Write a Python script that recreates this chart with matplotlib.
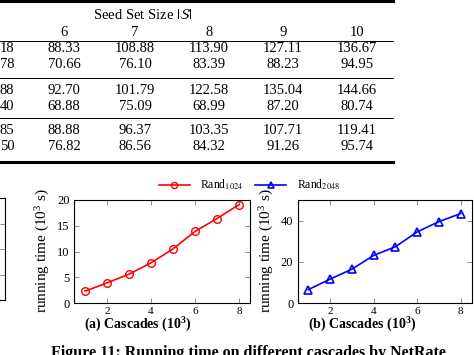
import matplotlib
matplotlib.use("Agg")
import matplotlib.pyplot as plt
from matplotlib.lines import Line2D

plt.rcParams['font.family'] = ['Liberation Serif', 'DejaVu Serif']
plt.rcParams['mathtext.fontset'] = 'stix'

W, H = 474, 355   # figure size in pixels

# table data (only the visible part of the page)
seed_sizes = [6, 7, 8, 9, 10]
cut_column = ["18", "78", "88", "40", "85", "50"]
table_rows = [
    [88.33, 108.88, 113.90, 127.11, 136.67],
    [70.66, 76.10, 83.39, 88.23, 94.95],
    [92.70, 101.79, 122.58, 135.04, 144.66],
    [68.88, 75.09, 68.99, 87.20, 80.74],
    [88.88, 96.37, 103.35, 107.71, 119.41],
    [76.82, 86.56, 84.32, 91.26, 95.74],
]

# plot data
cascades = [1, 2, 3, 4, 5, 6, 7, 8]
rand1024 = [2.3, 3.9, 5.6, 7.8, 10.5, 13.9, 16.4, 19.1]
rand2048 = [6.5, 11.6, 16.4, 23.1, 27.3, 34.5, 39.5, 43.4]


def fx(x):
    return x / W


def fy(y):
    return 1 - y / H


fig = plt.figure(figsize=(W / 100, H / 100), dpi=100)

# ---- table ----
col_x = [64, 135, 209, 283, 357]
row_y = [48, 64, 90, 106, 131, 147]
fs_tab = 10.5

fig.text(fx(143), fy(15), r'Seed Set Size $|\mathcal{S}|$', ha='center', va='center', fontsize=fs_tab)
for x, s in zip(col_x, seed_sizes):
    fig.text(fx(x), fy(32), str(s), ha='center', va='center', fontsize=fs_tab)
for y, row, cut in zip(row_y, table_rows, cut_column):
    fig.text(fx(0), fy(y), cut, ha='left', va='center', fontsize=fs_tab)
    for x, v in zip(col_x, row):
        fig.text(fx(x), fy(y), "%.2f" % v, ha='center', va='center', fontsize=fs_tab)

# rules
for y, lw in [(1, 2.2), (41, 0.7), (78, 0.7), (118, 0.7), (161.5, 2.2)]:
    fig.add_artist(Line2D([fx(0), fx(393)], [fy(y), fy(y)], color='black', lw=lw))


# ---- plots ----
def style_axes(ax):
    ax.tick_params(direction='in', length=3.5, width=0.7, color='0.55',
                   top=True, right=True, labelsize=9, pad=3)
    ax.tick_params(axis='x', labelsize=8)
    for sp in ax.spines.values():
        sp.set_linewidth(0.8)


top, bot = 200, 303

# left neighbour plot, mostly outside the crop
ax0 = fig.add_axes([fx(5 - 176), fy(bot - 3), 176 / W, (bot - 3 - 198) / H])
style_axes(ax0)
ax0.set_ylim(0, 20)
ax0.set_xlim(0.5, 8.5)
ax0.set_yticks([5, 10, 15])
ax0.set_xticks([])
ax0.tick_params(labelleft=False)

ax1 = fig.add_axes([fx(74), fy(bot), (250 - 74) / W, (bot - top) / H])
l1, = ax1.plot(cascades, rand1024, color='red', lw=1.2, marker='o',
               markersize=5.5, markerfacecolor='none', markeredgewidth=1.0)
ax1.set_xlim(0.5, 8.5)
ax1.set_ylim(0, 20)
ax1.set_xticks([2, 4, 6, 8])
ax1.set_yticks([0, 5, 10, 15, 20])
style_axes(ax1)

ax2 = fig.add_axes([fx(297.5), fy(bot), (471.5 - 297.5) / W, (bot - top) / H])
l2, = ax2.plot(cascades, rand2048, color='blue', lw=1.2, marker='^',
               markersize=5.5, markerfacecolor='none', markeredgewidth=1.2)
ax2.set_xlim(0.5, 8.5)
ax2.set_ylim(0, 50)
ax2.set_xticks([2, 4, 6, 8])
ax2.set_yticks([0, 20, 40])
style_axes(ax2)

ylab = r'running time ($\mathregular{10^3}$ s)'
fig.text(fx(43), fy(251), ylab, rotation=90, ha='center', va='center', fontsize=11)
fig.text(fx(267), fy(251), ylab, rotation=90, ha='center', va='center', fontsize=11)

fig.text(fx(138), fy(325), r'(a) Cascades ($\mathregular{10^3}$)', ha='center', va='center',
         fontsize=10, fontweight='bold')
fig.text(fx(362), fy(325), r'(b) Cascades ($\mathregular{10^3}$)', ha='center', va='center',
         fontsize=10, fontweight='bold')

fig.legend([l1, l2], [r'Rand$_{1024}$', r'Rand$_{2048}$'], loc='center left',
           bbox_to_anchor=(fx(159), fy(185)), ncol=2, frameon=False, fontsize=8.5,
           handlelength=2.6, handletextpad=0.9, columnspacing=1.0, markerscale=0.8,
           borderpad=0, borderaxespad=0)

# caption, cut at the bottom of the crop
fig.text(fx(248), fy(357), 'Figure 11: Running time on different cascades by NetRate',
         ha='center', va='baseline', fontsize=11.5, fontweight='bold')

fig.savefig('out.png', dpi=100)
